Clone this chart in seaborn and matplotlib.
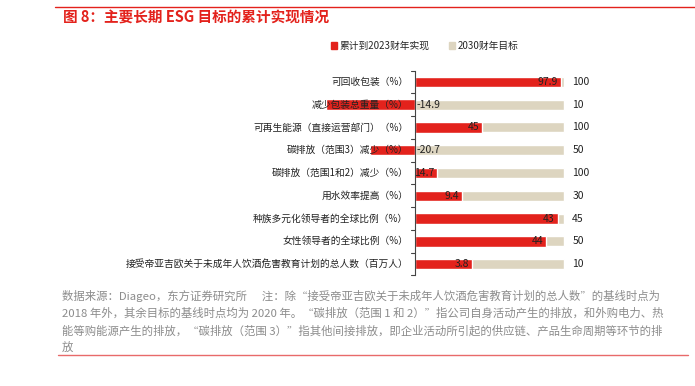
import matplotlib
matplotlib.use("Agg")
import matplotlib.pyplot as plt
import matplotlib.patches as mpatches
import seaborn as sns
import pandas as pd

# data
categories = [
    "可回收包装（%）",
    "减少包装总重量（%）",
    "可再生能源（直接运营部门）（%）",
    "碳排放（范围3）减少（%）",
    "碳排放（范围1和2）减少（%）",
    "用水效率提高（%）",
    "种族多元化领导者的全球比例（%）",
    "女性领导者的全球比例（%）",
    "接受帝亚吉欧关于未成年人饮酒危害教育计划的总人数（百万人）",
]
achieved = [97.9, -14.9, 45, -20.7, 14.7, 9.4, 43, 44, 3.8]
target_2030 = [100, 10, 100, 50, 100, 30, 45, 50, 10]
# bar lengths as shown (share of target, %)
progress_pct = [97.9, -60, 45, -30, 14.7, 31.3, 95.6, 88, 38]
full_pct = [100] * len(categories)

RED = "#E3221C"
BEIGE = "#DDD5C0"

df = pd.DataFrame({"cat": categories, "progress": progress_pct, "full": full_pct})

sns.set_theme(style="white")
plt.rcParams["font.family"] = ["Noto Sans CJK SC", "DejaVu Sans"]

fig = plt.figure(figsize=(6.95, 3.86), dpi=100)
ax = fig.add_axes([266 / 695, 1 - 275.4 / 386, (579 - 266) / 695, (275.4 - 70.6) / 386])

sns.barplot(data=df, x="full", y="cat", color=BEIGE, width=0.44, ax=ax,
            saturation=1, orient="h")
sns.barplot(data=df, x="progress", y="cat", color=RED, width=0.46, ax=ax,
            saturation=1, orient="h")

ax.set_xlim(-100, 110)
ax.set_ylim(8.5, -0.5)
ax.set_xlabel("")
ax.set_ylabel("")
ax.set_xticks([])
ax.set_yticks([])
for s in ["top", "right", "bottom"]:
    ax.spines[s].set_visible(False)
ax.spines["left"].set_position(("data", 0))
ax.spines["left"].set_color("#444444")
ax.spines["left"].set_linewidth(0.8)

# small category boundary ticks
for b in [i + 0.5 for i in range(-1, len(categories))]:
    ax.plot([-2.5, 0], [b, b], color="#444444", lw=0.8, clip_on=False)

for i, cat in enumerate(categories):
    ax.annotate(cat, (0, i), xytext=(-5, 0), textcoords="offset points",
                ha="right", va="center", fontsize=7, color="#222222", zorder=5)
    a = achieved[i]
    p = progress_pct[i]
    if a >= 0:
        ax.annotate(f"{a:g}", (p, i), xytext=(-2, 0), textcoords="offset points",
                    ha="right", va="center", fontsize=7.5, color="#222222", zorder=5)
    else:
        ax.annotate(f"{a:g}", (0, i), xytext=(1, 0), textcoords="offset points",
                    ha="left", va="center", fontsize=7.5, color="#222222", zorder=5)
    ax.text(105.5, i, f"{target_2030[i]}", ha="left", va="center",
            fontsize=7.5, color="#222222", clip_on=False)

handles = [mpatches.Patch(color=RED, label="累计到2023财年实现"),
           mpatches.Patch(color=BEIGE, label="2030财年目标")]
fig.legend(handles=handles, loc="center", bbox_to_anchor=(425 / 695, 1 - 46 / 386),
           ncol=2, frameon=False, fontsize=7, handlelength=0.6, handleheight=0.6,
           handletextpad=0.3, columnspacing=2.0)

fig.text(63 / 695, 1 - 18 / 386, "图 8：主要长期 ESG 目标的累计实现情况",
         color="#E3221C", fontsize=10.5, fontweight="bold", ha="left", va="center")
fig.add_artist(plt.Line2D([55 / 695, 1], [1 - 7 / 386] * 2, color="#E3221C", lw=1))

notes = [
    "数据来源：Diageo，东方证券研究所      注：除“接受帝亚吉欧关于未成年人饮酒危害教育计划的总人数”的基线时点为",
    "2018 年外，其余目标的基线时点均为 2020 年。“碳排放（范围 1 和 2）”指公司自身活动产生的排放，和外购电力、热",
    "能等购能源产生的排放，“碳排放（范围 3）”指其他间接排放，即企业活动所引起的供应链、产品生命周期等环节的排",
    "放",
]
for k, line in enumerate(notes):
    fig.text(62 / 695, 1 - (296 + 17.3 * k) / 386, line, fontsize=8.2,
             color="#8C8C8C", ha="left", va="center")
fig.add_artist(plt.Line2D([58 / 695, 688 / 695], [1 - 355 / 386] * 2,
                          color="#E86A6A", lw=1))

fig.savefig("out.png", dpi=100)
